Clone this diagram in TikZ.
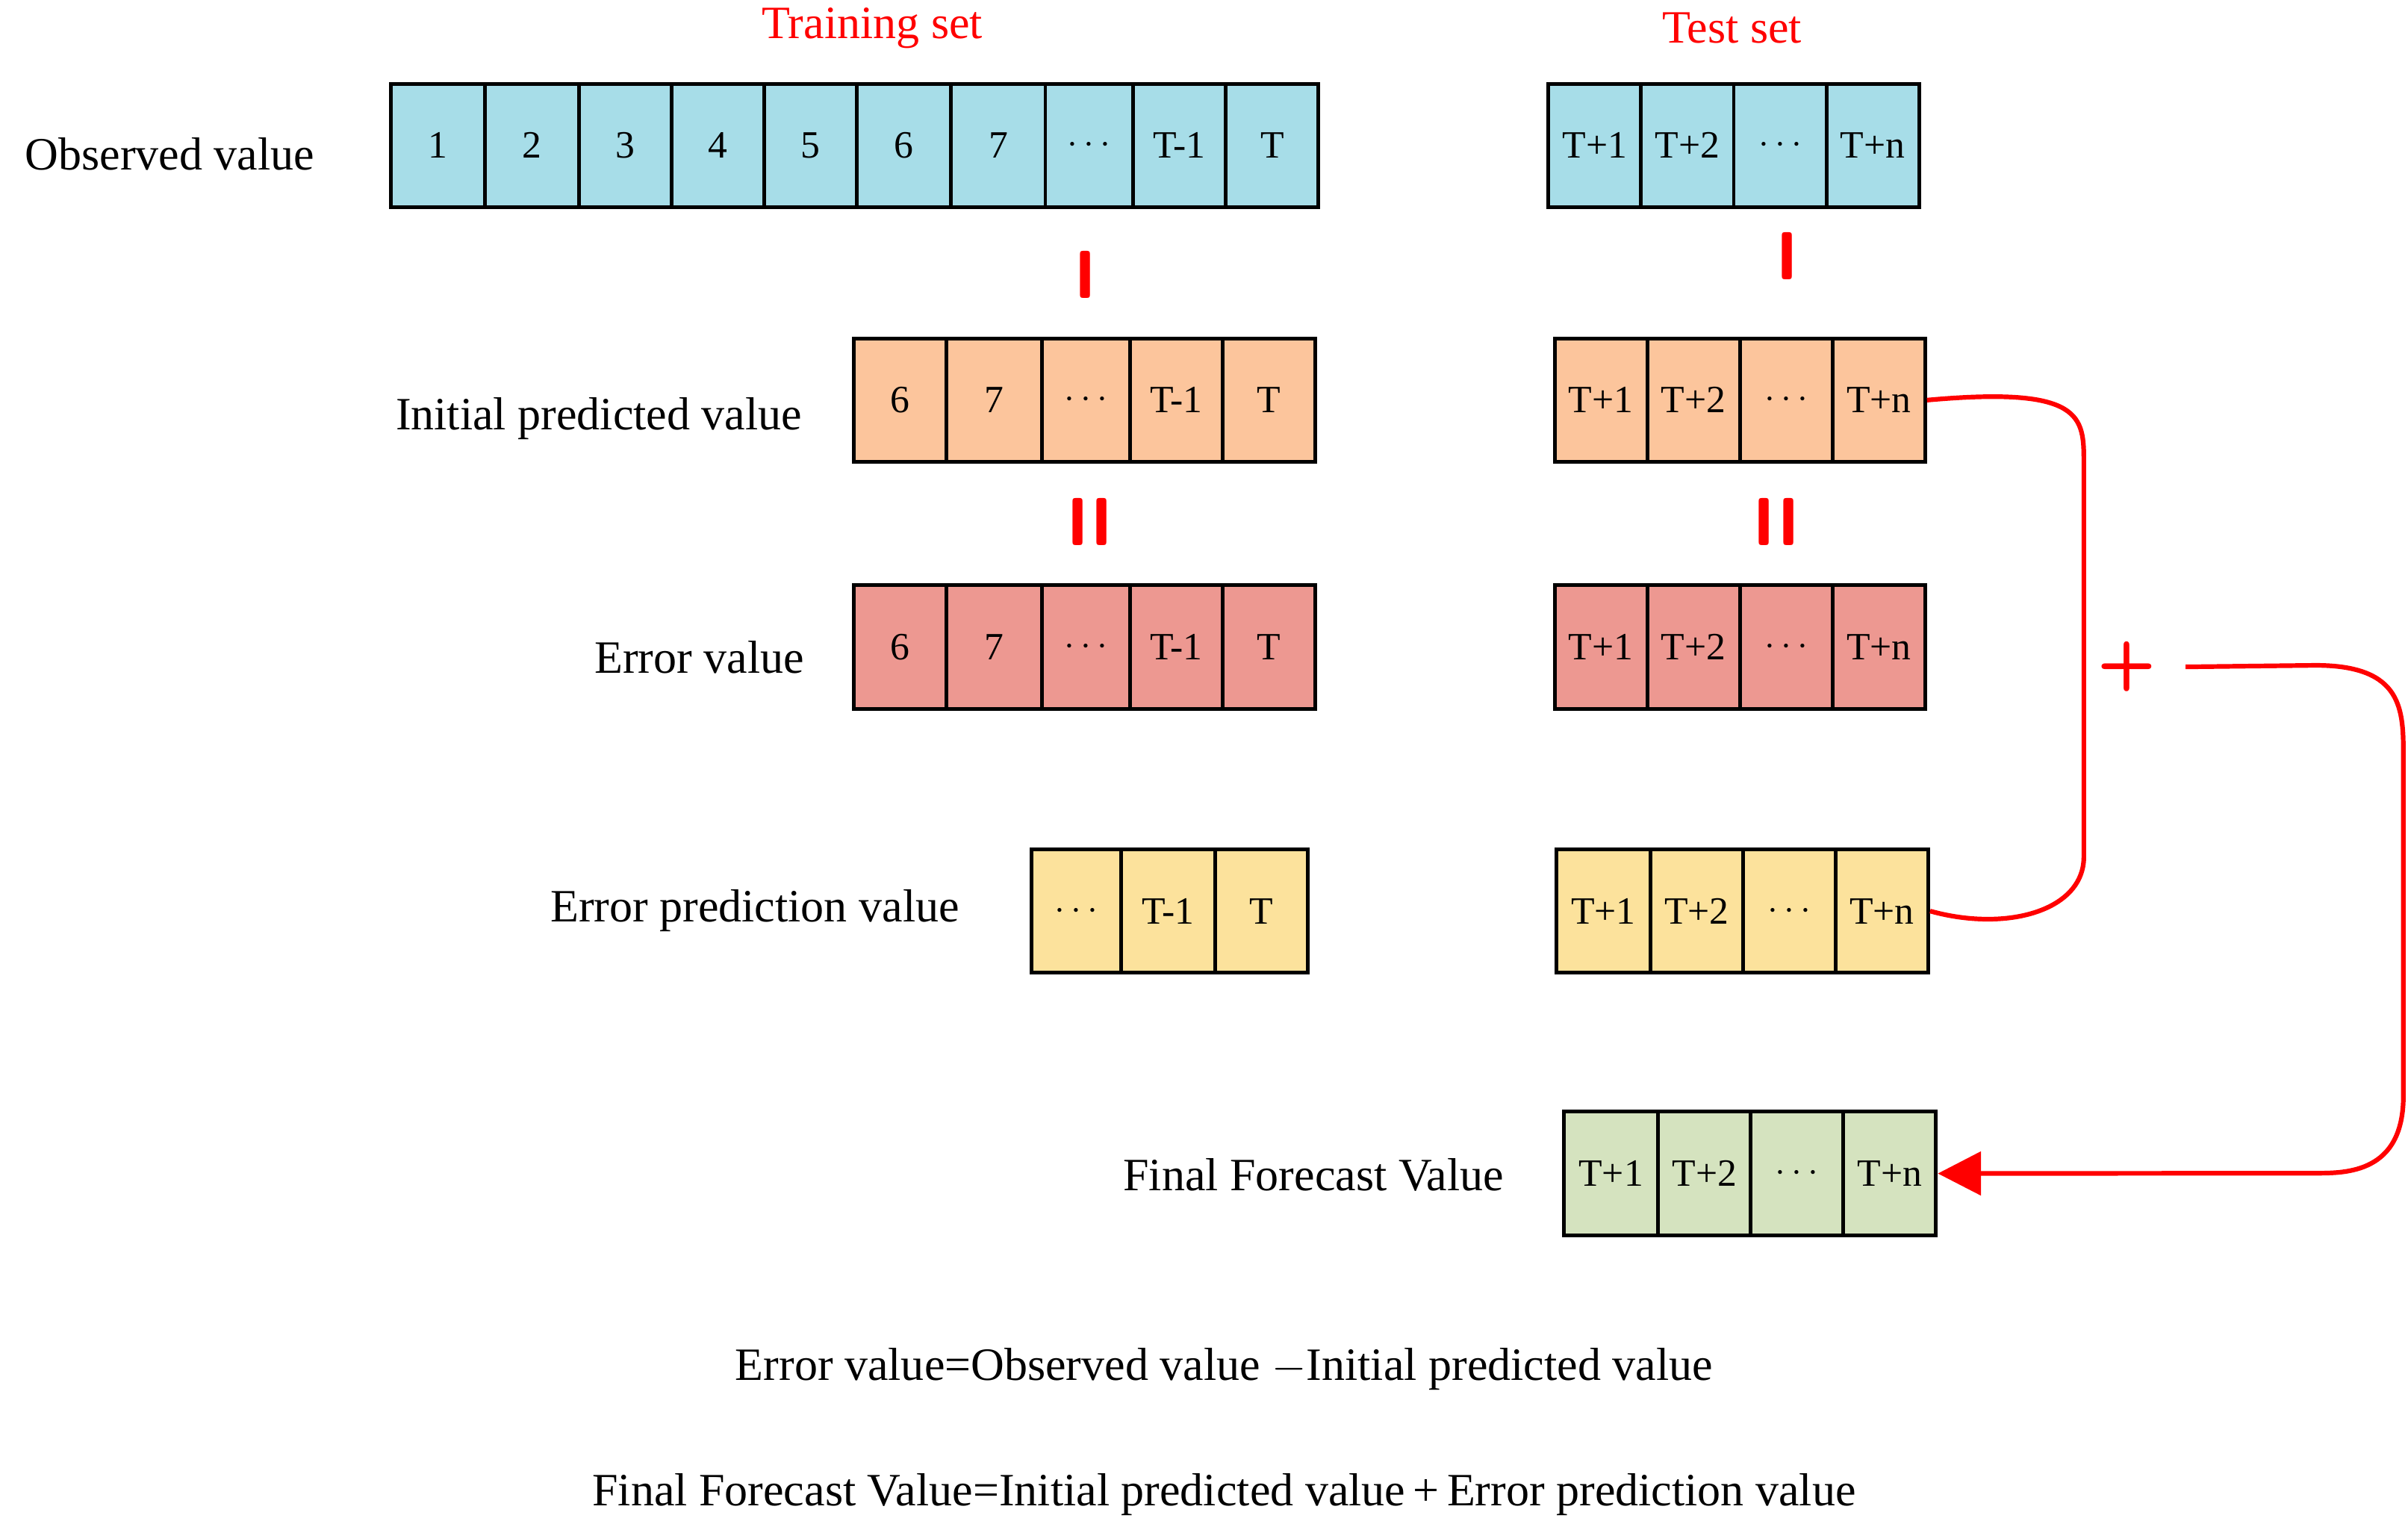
\documentclass[tikz,border=0pt]{standalone}
\usepackage{fontspec}
\setmainfont{Liberation Serif}
\usetikzlibrary{arrows.meta}
\definecolor{cblue}{HTML}{A7DDE8}
\definecolor{corange}{HTML}{FCC59C}
\definecolor{cpink}{HTML}{ED9891}
\definecolor{cyellow}{HTML}{FCE29C}
\definecolor{cgreen}{HTML}{D5E3BF}
\tikzset{
  cellbox/.style={draw=black,line width=1.2pt,inner sep=0pt,font=\fontsize{12.5}{14}\selectfont},
  lbl/.style={font=\fontsize{15}{18}\selectfont},
  redlbl/.style={font=\fontsize{15}{18}\selectfont,text=red},
  sign/.style={text=red,font=\fontsize{22}{24}\selectfont\bfseries\sffamily},
  redline/.style={red,line width=1.5pt}
}
\newcommand{\mkrow}[4]{% name, color, y0/y1, list x0/x1/label
  \foreach \xa/\xb/\tx [count=\i] in {#4}{
    \node[cellbox,fill=#2,minimum width={(\xb-\xa)*0.5pt},minimum height=40pt,anchor=north west] (#1\i) at (\xa,#3) {\tx};
  }}
\begin{document}
\begin{tikzpicture}[x=0.5pt,y=-0.5pt]
\useasboundingbox (0,0) rectangle (1560,987);
\node[redlbl] (tr) at (565,18) {Training set};
\node[redlbl] (te) at (1122,18) {Test set};
\mkrow{ob}{cblue}{53}{252/313/1,313/374/2,374/434/3,434/494/4,494/554/5,554/615/6,615/676/7,676/733/$\cdots$,733/793/T-1,793/853/T}
\mkrow{ot}{cblue}{53}{1002/1062/T+1,1062/1122/T+2,1122/1182/$\cdots$,1182/1242/T+n}
\mkrow{ip}{corange}{218}{552/612/6,612/674/7,674/731/$\cdots$,731/791/T-1,791/851/T}
\mkrow{it}{corange}{218}{1006/1066/T+1,1066/1126/T+2,1126/1186/$\cdots$,1186/1246/T+n}
\mkrow{ep}{cpink}{378}{552/612/6,612/674/7,674/731/$\cdots$,731/791/T-1,791/851/T}
\mkrow{et}{cpink}{378}{1006/1066/T+1,1066/1126/T+2,1126/1186/$\cdots$,1186/1246/T+n}
\mkrow{pp}{cyellow}{549}{667/725/$\cdots$,725/786/T-1,786/846/T}
\mkrow{pt}{cyellow}{549}{1007/1068/T+1,1068/1128/T+2,1128/1188/$\cdots$,1188/1248/T+n}
\mkrow{ff}{cgreen}{719}{1012/1073/T+1,1073/1133/T+2,1133/1193/$\cdots$,1193/1253/T+n}
\node[lbl] (l1) at (110,100) {Observed value};
\node[lbl] (l2) at (388,271) {Initial predicted value};
\node[lbl] (l3) at (453,426) {Error value};
\node[lbl] (l4) at (489,590) {Error prediction value};
\node[lbl] (l5) at (851,761) {Final Forecast Value};
\node[sign] (m1) at (703,178) {I};
\node[sign] (m2) at (1158,166) {I};
\node[sign] (e1) at (706,338) {II};
\node[sign] (e2) at (1151,338) {II};
\node[sign] (pl) at (1378,432) {+};
\draw[redline] (it4.east) .. controls (1350,250) and (1350,270) .. (1350,300) -- (1350,555) .. controls (1350,590) and (1300,604) .. (pt4.east);
\draw[redline,-{Triangle[length=14pt,width=14pt]}] (pl.east) ++(12,0) -- (1500,431) .. controls (1557,431) and (1557,460) .. (1557,490) -- (1557,710) .. controls (1557,760) and (1520,760) .. (1500,760) -- (ff4.east);
\node[lbl] (f1) at (793,887) {Error value=Observed value $-$Initial predicted value};
\node[lbl] (f2) at (793,968) {Final Forecast Value=Initial predicted value\,+\,Error prediction value};
\end{tikzpicture}
\end{document}
